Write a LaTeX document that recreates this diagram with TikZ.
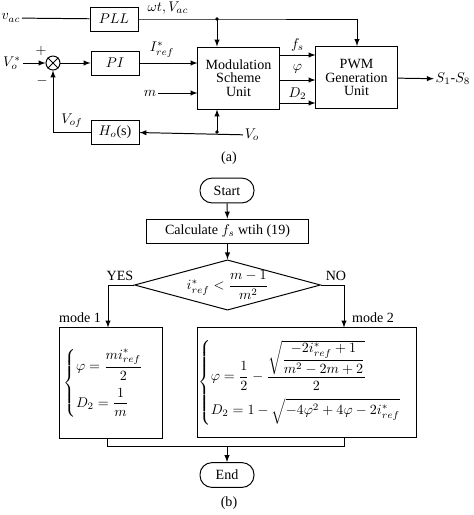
\documentclass[tikz,border=0pt]{standalone}
\usepackage{amsmath}
\usepackage{fontspec}
\setmainfont{Liberation Serif}
\usetikzlibrary{shapes.geometric}

\begin{document}
\begin{tikzpicture}[x=0.025cm,y=-0.025cm,>=latex,line width=0.7pt,
		blk/.style={draw, inner sep=0pt, minimum width=1.2cm, minimum height=0.6cm},
		unit/.style={draw, align=center, inner sep=0pt, minimum width=2.025cm, minimum height=1.55cm, font=\fontsize{10}{9.5}\selectfont},
		term/.style={draw, rounded corners=0.3cm, inner sep=0pt, minimum width=1.35cm, minimum height=0.62cm},
		lbl/.style={inner sep=1pt}]
			
			\useasboundingbox (0,0) rectangle (474,515);
			
			% (a) control loop
			\node[blk]
			(PLL-Box) at (114,19) {$PLL$};
			\node[blk]
			(PI-Box) at (115,63) {$PI$};
			\node[blk]
			(Ho-Box) at (115,132) {$H_o$(s)};
			
			\node[circle, draw, inner sep=0pt, minimum size = 0.35cm]
			(Sum-Node) at (53,63) {};
			\draw (Sum-Node.north west) -- (Sum-Node.south east);
			\draw (Sum-Node.north east) -- (Sum-Node.south west);
			
			\node[unit]
			(Mod-Unit) at (238.5,78) {Modulation\\Scheme\\Unit};
			\node[unit]
			(PWM-Unit) at (356.5,77.5) {PWM\\Generation\\Unit};
			
			\node[lbl]
			(Vac-Label) at (11,18) {$v_{ac}$};
			\node[lbl]
			(Wt-Label) at (168,8) {$\omega t, V_{ac}$};
			\node[lbl]
			(Vref-Label) at (12,63) {$V_o^*$};
			\node[lbl]
			(Plus-Label) at (41,51) {$+$};
			\node[lbl]
			(Minus-Label) at (42,81) {$-$};
			\node[lbl]
			(Iref-Label) at (162,50) {$I^*_{ref}$};
			\node[lbl]
			(M-Label) at (150,93) {$m$};
			\node[lbl]
			(Vof-Label) at (72,121) {$V_{of}$};
			\node[lbl]
			(Vo-Label) at (252,135) {$V_o$};
			\node[lbl]
			(S-Label) at (453,79) {$S_1$-$S_8$};
			
			\coordinate (Top-Dot) at (217,19);
			\coordinate (Top-Corner) at (357,19);
			\coordinate (Bot-Dot) at (217,132);
			
			\draw (Vac-Label) -- (PLL-Box);
			\draw (PLL-Box) -- (Top-Dot) -- (Top-Corner);
			\draw[->] (Top-Corner) -- (Top-Corner |- PWM-Unit.north);
			\draw[->] (Top-Dot) -- (Top-Dot |- Mod-Unit.north);
			\fill (Top-Dot) circle (1.4pt);
			
			\draw[->] (Vref-Label) -- (Sum-Node);
			\draw[->] (Sum-Node) -- (PI-Box);
			\draw[->] (PI-Box) -- (PI-Box -| Mod-Unit.west);
			\draw[->] (M-Label) -- (M-Label -| Mod-Unit.west);
			
			\draw[->] (Mod-Unit.east |- 0,55) -- (PWM-Unit.west |- 0,55) node[midway, above=-1pt]{$f_s$};
			\draw[->] (Mod-Unit.east |- 0,80) -- (PWM-Unit.west |- 0,80) node[midway, above=1pt]{$\varphi$};
			\draw[->] (Mod-Unit.east |- 0,103) -- (PWM-Unit.west |- 0,103) node[midway, above=-1pt]{$D_2$};
			\draw[->] (PWM-Unit) -- (S-Label);
			
			\draw[->] (Vo-Label) -- (Ho-Box);
			\draw[->] (Bot-Dot) -- (Bot-Dot |- Mod-Unit.south);
			\fill (Bot-Dot) circle (1.4pt);
			\draw[->] (Ho-Box) -- (Sum-Node |- Ho-Box) -- (Sum-Node);
			
			\node[lbl]
			(Cap-A) at (229,158) {(a)};
			
			% (b) flow chart
			\node[term]
			(Start-Node) at (227,190.5) {Start};
			\node[draw, inner sep=0pt, minimum width = 4.025cm, minimum height = 0.62cm]
			(Calc-Box) at (227.5,231.5) {Calculate $f_s$ wtih (19)};
			\node[diamond, draw, inner sep=0pt, aspect=3.7, minimum width = 4.475cm, minimum height = 1.2cm]
			(Cond-Dia) at (227.5,285) {$i^*_{ref}<\dfrac{m-1}{m^2}$};
			
			\node[draw, inner sep=0pt, minimum width = 2.55cm, minimum height = 2.75cm]
			(Mode1-Box) at (111,383) {$\begin{cases}\varphi=\dfrac{mi^*_{ref}}{2}\\[3mm] D_2=\dfrac{1}{m}\end{cases}$};
			\node[draw, inner sep=0pt, minimum width = 5.45cm, minimum height = 2.725cm]
			(Mode2-Box) at (307,382.5) {$\begin{cases}\varphi=\dfrac{1}{2}-\dfrac{\sqrt{\dfrac{-2i^*_{ref}+1}{m^2-2m+2}}}{2}\\[3mm] D_2=1-\sqrt{-4\varphi^2+4\varphi-2i^*_{ref}}\end{cases}$};
			
			\node[term]
			(End-Node) at (227,475) {End};
			
			\node[lbl]
			(Yes-Label) at (120,276) {YES};
			\node[lbl]
			(No-Label) at (336,276) {NO};
			\node[lbl]
			(Mode1-Label) at (80,318) {mode 1};
			\node[lbl]
			(Mode2-Label) at (373,318) {mode 2};
			
			\coordinate (Yes-Turn) at (108,285);
			\coordinate (No-Turn) at (344,285);
			\coordinate (Join-Left) at (107,446);
			\coordinate (Join-Right) at (344,446);
			\coordinate (Join-Mid) at (227,446);
			
			\draw[->] (Start-Node) -- (Calc-Box);
			\draw[->] (Calc-Box) -- (Cond-Dia);
			\draw[->] (Cond-Dia.west) -- (Yes-Turn) -- (Yes-Turn |- Mode1-Box.north);
			\draw[->] (Cond-Dia.east) -- (No-Turn) -- (No-Turn |- Mode2-Box.north);
			\draw (Join-Left |- Mode1-Box.south) -- (Join-Left) -- (Join-Right) -- (Join-Right |- Mode2-Box.south);
			\draw[->] (Join-Mid) -- (End-Node);
			
			\node[lbl]
			(Cap-B) at (229,503) {(b)};
			
		\end{tikzpicture}
\end{document}
